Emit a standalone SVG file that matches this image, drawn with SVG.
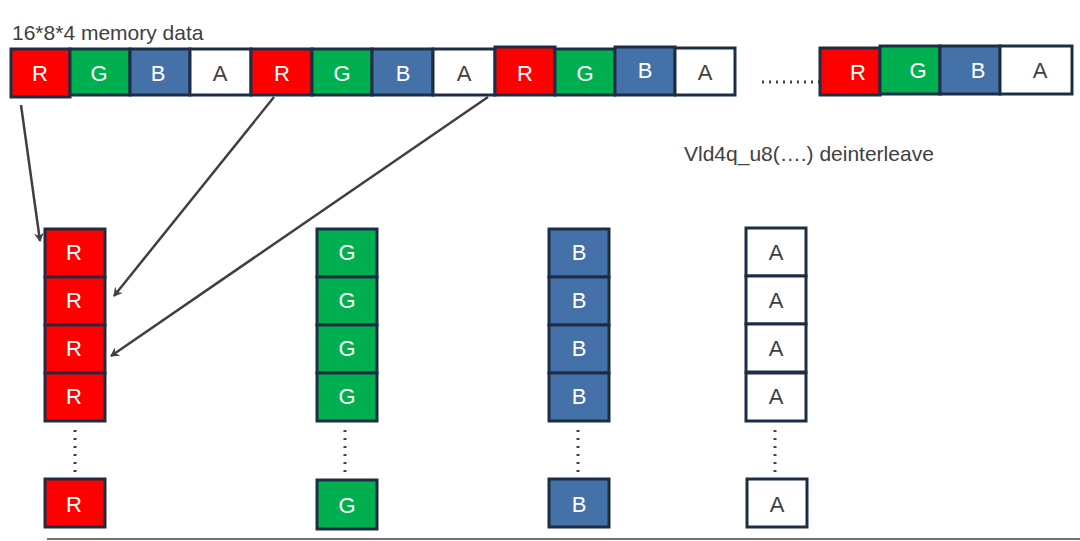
<svg xmlns="http://www.w3.org/2000/svg" width="1080" height="541" viewBox="0 0 1080 541">
<style>
.c{stroke:#1c2e45;stroke-width:3}
.r{fill:#ff0000}.g{fill:#00b050}.b{fill:#4472a8}.a{fill:#ffffff}
text{font-family:"Liberation Sans",Arial,sans-serif;font-size:22px;text-anchor:middle}
.w{fill:#ffffff}.k{fill:#404040}
.lbl{font-size:21px;fill:#404040;text-anchor:start}
.dot{stroke:#404040;stroke-width:3;stroke-dasharray:2 6;fill:none}
</style>
<defs>
<marker id="ah" markerWidth="10" markerHeight="10" refX="8" refY="5" orient="auto" markerUnits="userSpaceOnUse">
<path d="M0,0 L9,5 L0,10 L3,5 Z" fill="#404040"/>
</marker>
</defs>
<rect width="1080" height="541" fill="#fff"/>
<text class="lbl" x="12" y="40">16*8*4 memory data</text>
<g id="row">
<g id="t1"><rect class="c r" x="11" y="49" width="59" height="48"/><text class="w" x="40" y="81">R</text></g>
<g id="t2"><rect class="c g" x="70" y="49" width="60" height="46"/><text class="w" x="99" y="81">G</text></g>
<g id="t3"><rect class="c b" x="130" y="49" width="60" height="46"/><text class="w" x="158" y="81">B</text></g>
<g id="t4"><rect class="c a" x="190" y="49" width="61" height="46"/><text class="k" x="220" y="81">A</text></g>
<g id="t5"><rect class="c r" x="251" y="49" width="61" height="46"/><text class="w" x="282" y="81">R</text></g>
<g id="t6"><rect class="c g" x="312" y="49" width="60" height="46"/><text class="w" x="342" y="81">G</text></g>
<g id="t7"><rect class="c b" x="372" y="49" width="61" height="46"/><text class="w" x="403" y="81">B</text></g>
<g id="t8"><rect class="c a" x="433" y="49" width="62" height="46"/><text class="k" x="464" y="81">A</text></g>
<g id="t9"><rect class="c r" x="495" y="47" width="60" height="48"/><text class="w" x="525" y="81">R</text></g>
<g id="t10"><rect class="c g" x="555" y="49" width="60" height="46"/><text class="w" x="585" y="81">G</text></g>
<g id="t11"><rect class="c b" x="615" y="47" width="60" height="48"/><text class="w" x="645" y="78">B</text></g>
<g id="t12"><rect class="c a" x="675" y="48" width="60" height="47"/><text class="k" x="705" y="80">A</text></g>
<line class="dot" x1="762" y1="82" x2="822" y2="82" style="stroke-dasharray:2 5"/>
<g id="t13"><rect class="c r" x="820" y="48" width="60" height="47"/><text class="w" x="858" y="80">R</text></g>
<g id="t14"><rect class="c g" x="880" y="46" width="60" height="48"/><text class="w" x="918" y="78">G</text></g>
<g id="t15"><rect class="c b" x="940" y="46" width="60" height="48"/><text class="w" x="978" y="78">B</text></g>
<g id="t16"><rect class="c a" x="1000" y="46" width="72" height="48"/><text class="k" x="1040" y="78">A</text></g>
</g>
<text class="lbl" x="684" y="161">Vld4q_u8(….) deinterleave</text>
<g id="colR">
<rect class="c r" x="45" y="229" width="60" height="48"/><text class="w" x="74" y="260">R</text>
<rect class="c r" x="45" y="277" width="60" height="48"/><text class="w" x="74" y="308">R</text>
<rect class="c r" x="45" y="325" width="60" height="48"/><text class="w" x="74" y="356">R</text>
<rect class="c r" x="45" y="373" width="60" height="48"/><text class="w" x="74" y="404">R</text>
<line class="dot" x1="75" y1="430" x2="75" y2="476"/>
<rect class="c r" x="45" y="479" width="60" height="48"/><text class="w" x="74" y="512">R</text>
</g>
<g id="colG">
<rect class="c g" x="317" y="229" width="60" height="48"/><text class="w" x="347" y="260">G</text>
<rect class="c g" x="317" y="277" width="60" height="48"/><text class="w" x="347" y="308">G</text>
<rect class="c g" x="317" y="325" width="60" height="48"/><text class="w" x="347" y="356">G</text>
<rect class="c g" x="317" y="373" width="60" height="48"/><text class="w" x="347" y="404">G</text>
<line class="dot" x1="345" y1="430" x2="345" y2="476"/>
<rect class="c g" x="317" y="480" width="60" height="49"/><text class="w" x="347" y="513">G</text>
</g>
<g id="colB">
<rect class="c b" x="549" y="229" width="60" height="48"/><text class="w" x="579" y="260">B</text>
<rect class="c b" x="549" y="277" width="60" height="48"/><text class="w" x="579" y="308">B</text>
<rect class="c b" x="549" y="325" width="60" height="48"/><text class="w" x="579" y="356">B</text>
<rect class="c b" x="549" y="373" width="60" height="48"/><text class="w" x="579" y="404">B</text>
<line class="dot" x1="578" y1="430" x2="578" y2="476"/>
<rect class="c b" x="549" y="479" width="60" height="48"/><text class="w" x="579" y="512">B</text>
</g>
<g id="colA">
<rect class="c a" x="746" y="228" width="60" height="48"/><text class="k" x="776" y="260">A</text>
<rect class="c a" x="746" y="276" width="60" height="48"/><text class="k" x="776" y="308">A</text>
<rect class="c a" x="746" y="324" width="60" height="48"/><text class="k" x="776" y="356">A</text>
<rect class="c a" x="746" y="373" width="60" height="48"/><text class="k" x="776" y="404">A</text>
<line class="dot" x1="775" y1="430" x2="775" y2="476"/>
<rect class="c a" x="747" y="479" width="60" height="48"/><text class="k" x="777" y="512">A</text>
</g>
<g id="connectors" stroke="#404040" stroke-width="2.5" fill="none">
<line x1="21" y1="105" x2="40" y2="241" marker-end="url(#ah)"/>
<line x1="274" y1="97" x2="114" y2="296" marker-end="url(#ah)"/>
<line x1="488" y1="97" x2="111" y2="356" marker-end="url(#ah)"/>
</g>
<line x1="47" y1="539" x2="1080" y2="539" stroke="#404040" stroke-width="1.5"/>
</svg>
